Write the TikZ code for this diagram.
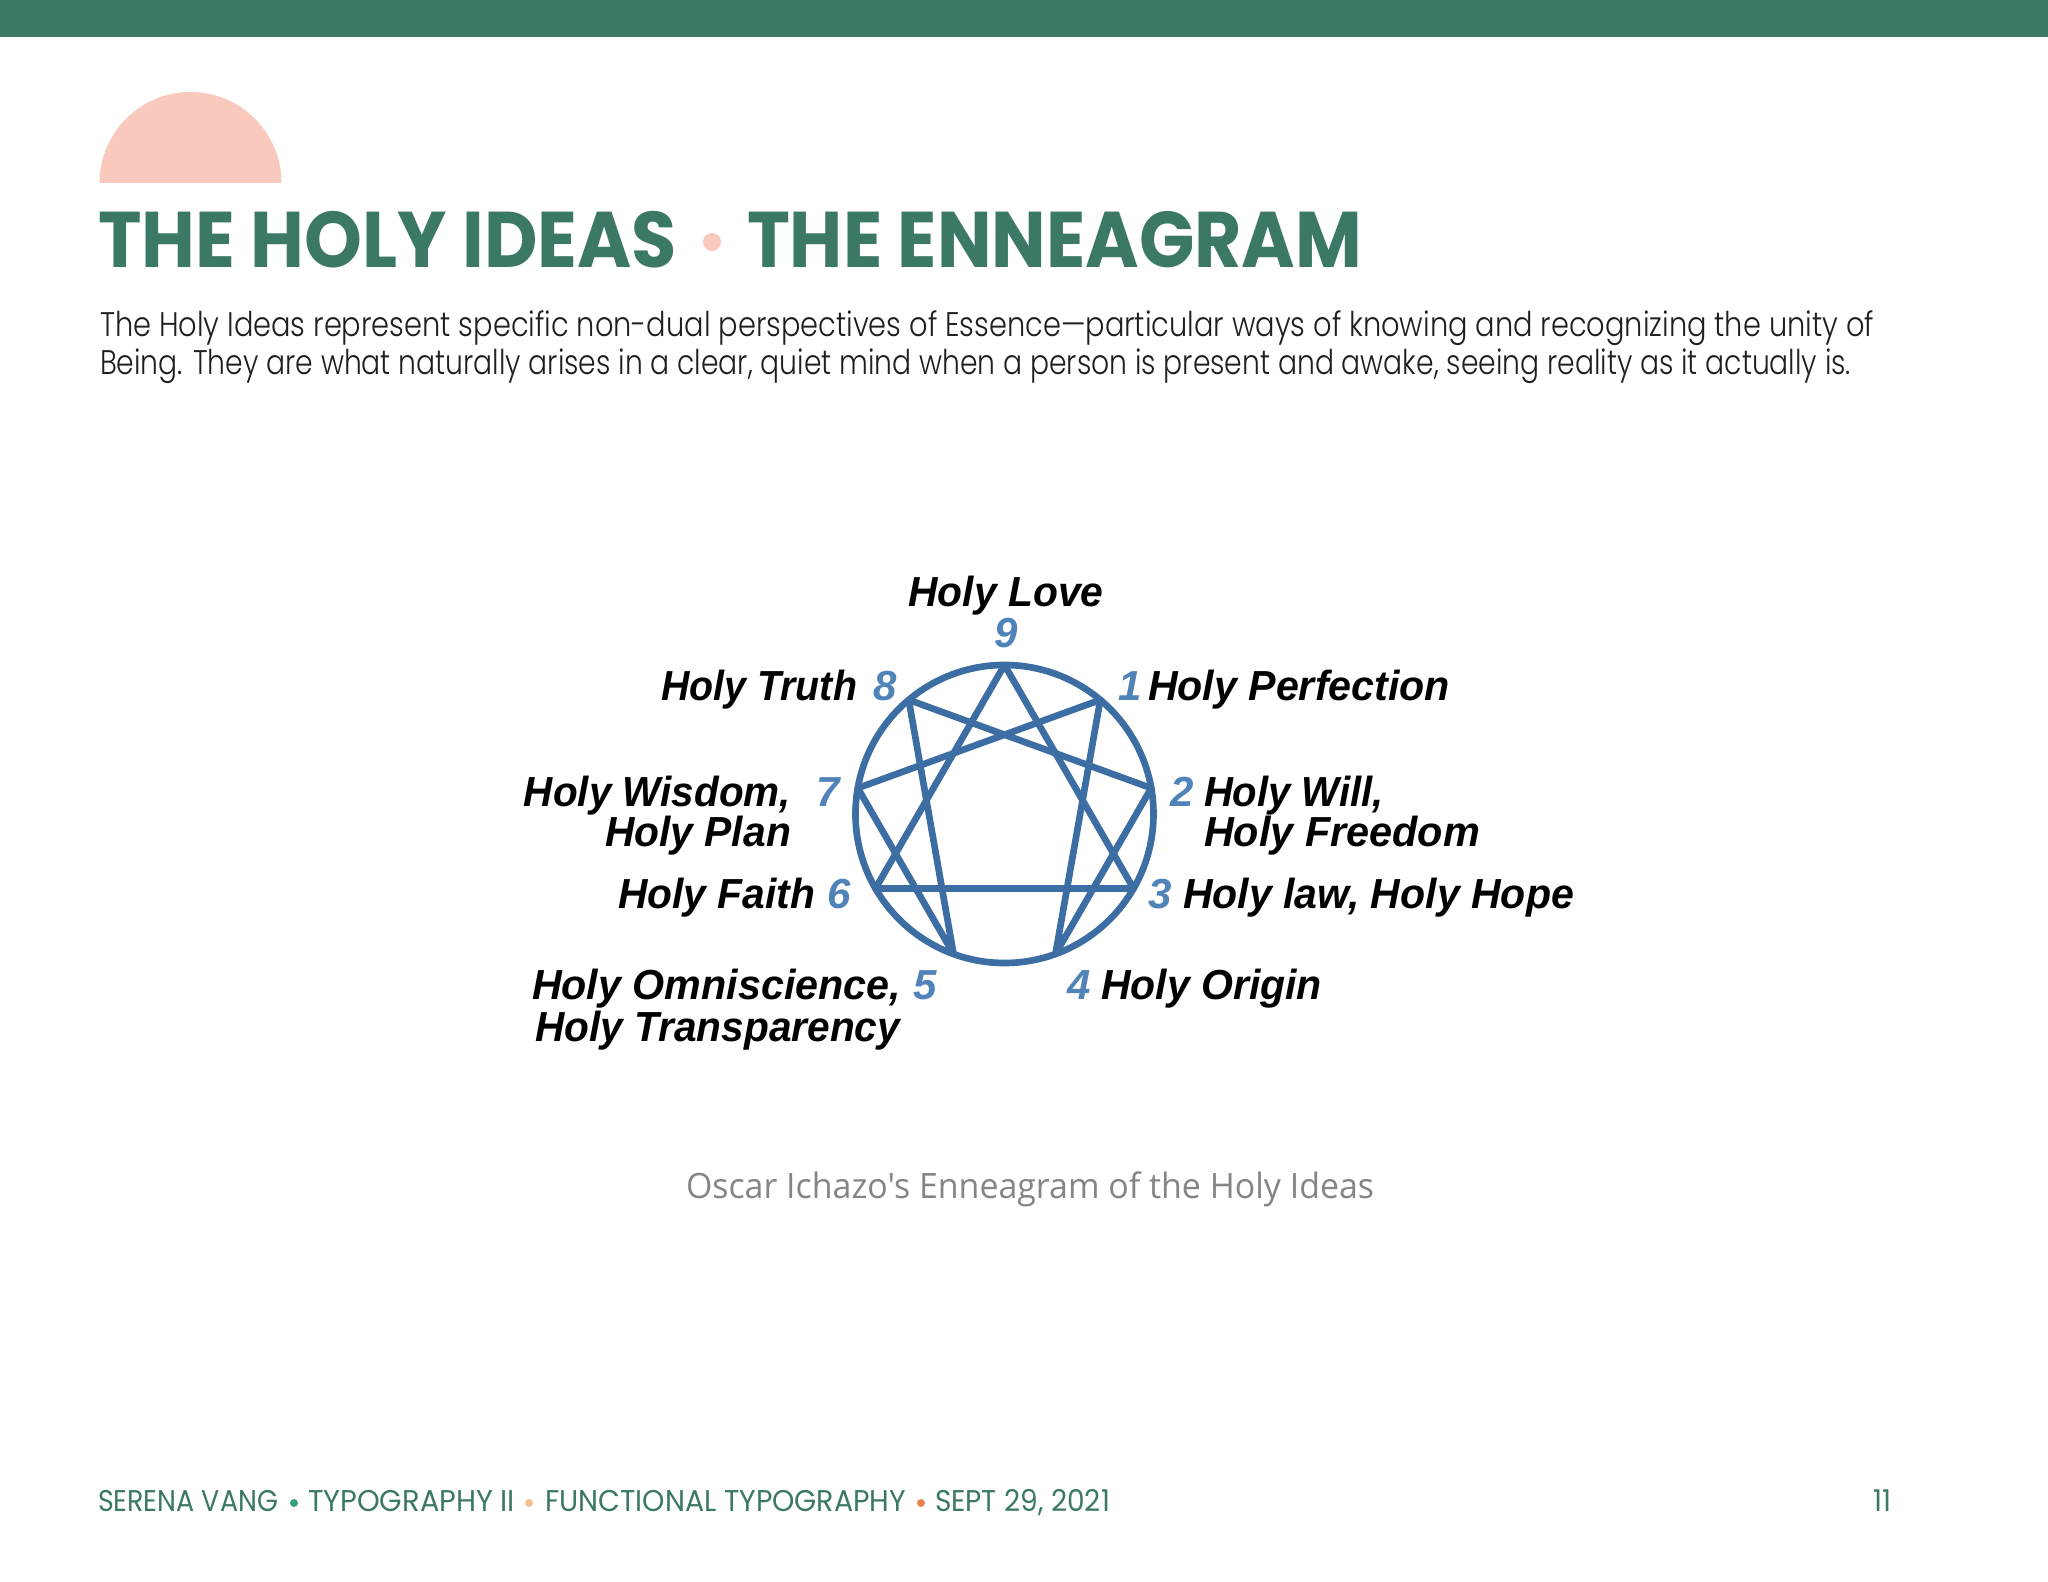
\documentclass[tikz,border=0pt]{standalone}
\usepackage{fontspec}
\usepackage{graphicx}
\usetikzlibrary{calc}
\setmainfont{Poppins}
\newfontfamily\poplight{Poppins Light}
\newfontfamily\labf{Liberation Sans}
\newfontfamily\osans{Open Sans}
\definecolor{bandgreen}{HTML}{3C7A67}
\definecolor{titlegreen}{HTML}{3B7866}
\definecolor{pinkish}{HTML}{F9C9BD}
\definecolor{ennblue}{HTML}{3C6EA3}
\definecolor{numblue}{HTML}{5083B8}
\definecolor{capgray}{HTML}{858585}
\definecolor{dotgreen}{HTML}{36A07A}
\definecolor{dotlorange}{HTML}{F8BD8C}
\definecolor{dotorange}{HTML}{E8834B}
\newlength\fwlen
\newcommand\fw[2]{\setlength\fwlen{\dimexpr #1pt*3/8\relax}\resizebox{\fwlen}{\height}{#2}}
\tikzset{
  every node/.style={inner sep=0pt, outer sep=0pt},
  titletext/.style={font=\bfseries\fontsize{29.6}{34}\selectfont, text=titlegreen},
  bodytext/.style={font=\poplight\fontsize{12.8}{15}\selectfont, text=black!88},
  lbl/.style={font=\labf\bfseries\itshape\fontsize{15.75}{18}\selectfont, text=black},
  num/.style={font=\labf\bfseries\itshape\fontsize{15.75}{18}\selectfont, text=numblue},
  captext/.style={font=\osans\fontsize{13.1}{16}\selectfont, text=capgray},
  foot/.style={font=\fontsize{11.25}{13}\selectfont, text=titlegreen},
  ennline/.style={draw=ennblue, line width=2.5pt, line join=round},
}
\begin{document}
\begin{tikzpicture}[x=0.375pt, y=-0.375pt]
\useasboundingbox (0,0) rectangle (2048,1582);
\fill[white] (0,0) rectangle (2048,1582);
% top band
\fill[bandgreen] (0,0) rectangle (2048,37);
% semicircle
\fill[pinkish] (99.5,183) arc[start angle=180, end angle=360, radius=91] -- cycle;
% title
\node[titletext, anchor=base west] (t1) at (98,268) {\fw{579}{THE HOLY IDEAS}};
\fill[pinkish] (712,242) circle[radius=9];
\node[titletext, anchor=base west] (t2) at (747,268) {\fw{615}{THE ENNEAGRAM}};
% body
\node[bodytext, anchor=base west] (b1) at (100,337) {\fw{1774}{The Holy Ideas represent specific non-dual perspectives of Essence—particular ways of knowing and recognizing the unity of}};
\node[bodytext, anchor=base west] (b2) at (100,375) {\fw{1751}{Being. They are what naturally arises in a clear, quiet mind when a person is present and awake, seeing reality as it actually is.}};
% enneagram
\coordinate (c) at (1004.5,814);
\foreach \k in {0,...,8} {\coordinate (p\k) at ($(c)+(40*\k-90:149)$);}
\draw[ennline] (c) circle[radius=149];
\draw[ennline] (p0) -- (p3) -- (p6) -- cycle;
\draw[ennline] (p1) -- (p4) -- (p2) -- (p8) -- (p5) -- (p7) -- cycle;
% labels
\node[lbl, anchor=base] (l9) at (1006,607) {\fw{195}{Holy Love}};
\node[num, anchor=base] (n9) at (1006,648) {9};
\node[lbl, anchor=base west] (l8) at (661,701) {\fw{196}{Holy Truth}};
\node[num, anchor=base west] (n8) at (873,701) {8};
\node[num, anchor=base west] (n1) at (1118,701) {1};
\node[lbl, anchor=base west] (l1) at (1148,701) {\fw{302}{Holy Perfection}};
\node[lbl, anchor=base east] (l7a) at (791,806) {\fw{267}{Holy Wisdom,}};
\node[lbl, anchor=base east] (l7b) at (791,846) {\fw{186}{Holy Plan}};
\node[num, anchor=base west] (n7) at (816,806) {7};
\node[num, anchor=base west] (n2) at (1170,806) {2};
\node[lbl, anchor=base west] (l2a) at (1204,806) {\fw{180}{Holy Will,}};
\node[lbl, anchor=base west] (l2b) at (1204,846) {\fw{276}{Holy Freedom}};
\node[lbl, anchor=base east] (l6) at (815,908) {\fw{197}{Holy Faith}};
\node[num, anchor=base west] (n6) at (827,908) {6};
\node[num, anchor=base west] (n3) at (1148,908) {3};
\node[lbl, anchor=base west] (l3) at (1183,908) {\fw{391}{Holy law, Holy Hope}};
\node[lbl, anchor=base west] (l5a) at (532,999) {\fw{369}{Holy Omniscience,}};
\node[num, anchor=base west] (n5) at (913,999) {5};
\node[lbl, anchor=base west] (l5b) at (535,1041) {\fw{365}{Holy Transparency}};
\node[num, anchor=base west] (n4) at (1067,999) {4};
\node[lbl, anchor=base west] (l4) at (1101,999) {\fw{221}{Holy Origin}};
% caption
\node[captext, anchor=base west] (cap) at (686,1198) {\fw{688}{Oscar Ichazo's Enneagram of the Holy Ideas}};
% footer
\node[foot, anchor=base west] (f1) at (98,1511) {\fw{180}{SERENA VANG}};
\fill[dotgreen] (294,1503) circle[radius=4];
\node[foot, anchor=base west] (f2) at (308,1511) {\fw{207}{TYPOGRAPHY II}};
\fill[dotlorange] (529,1503) circle[radius=4];
\node[foot, anchor=base west] (f3) at (545,1511) {\fw{361}{FUNCTIONAL TYPOGRAPHY}};
\fill[dotorange] (921,1503) circle[radius=4];
\node[foot, anchor=base west] (f4) at (935,1511) {\fw{175}{SEPT 29, 2021}};
\node[foot, anchor=base west] (f5) at (1873,1511) {\fw{18}{11}};
\end{tikzpicture}
\end{document}
